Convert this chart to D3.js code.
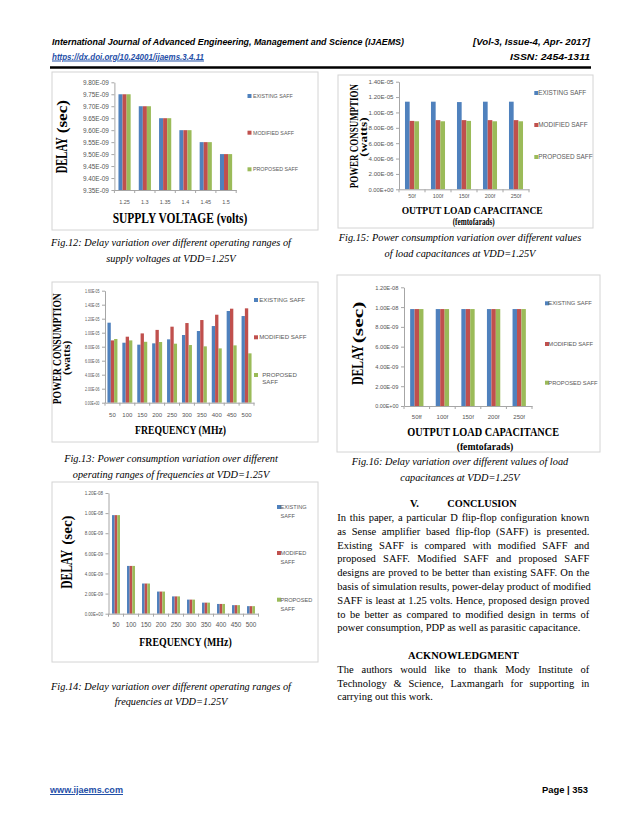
<!DOCTYPE html>
<html>
<head>
<meta charset="utf-8">
<script src="https://cdn.jsdelivr.net/npm/d3@7"></script>
<style>
  body { margin: 0; background: #fff; }
  svg { display: block; }
</style>
</head>
<body>
<svg id="page" width="638" height="826"></svg>
<script>
'use strict';

// ---- data ----
const seriesColors = ['#4f81bd', '#c0504d', '#9bbb59'];
const legendPlain = [['EXISTING SAFF'], ['MODIFIED SAFF'], ['PROPOSED SAFF']];
const legendFig13 = [['EXISTING SAFF'], ['MODIFIED SAFF'], ['PROPOSED', 'SAFF']];
const legendFig14 = [['EXISTING', 'SAFF'], ['MODIFED', 'SAFF'], ['PROPOSED', 'SAFF']];

// Fig.12 delay vs supply voltage
const voltages = ['1.25', '1.3', '1.35', '1.4', '1.45', '1.5'];
const delayVoltExisting = [9.75e-9, 9.70e-9, 9.65e-9, 9.60e-9, 9.55e-9, 9.50e-9];
const delayVoltModified = [9.75e-9, 9.70e-9, 9.65e-9, 9.60e-9, 9.55e-9, 9.50e-9];
const delayVoltProposed = [9.75e-9, 9.70e-9, 9.65e-9, 9.60e-9, 9.55e-9, 9.50e-9];
const delayVoltTicks = [9.35e-9, 9.40e-9, 9.45e-9, 9.50e-9, 9.55e-9, 9.60e-9, 9.65e-9, 9.70e-9, 9.75e-9, 9.80e-9];

// Fig.13 power vs frequency
const frequencies = ['50', '100', '150', '200', '250', '300', '350', '400', '450', '500'];
const powerFreqExisting = [1.143e-5, 8.57e-6, 8.29e-6, 8.48e-6, 9.05e-6, 9.67e-6, 1.024e-5, 1.095e-5, 1.31e-5, 1.238e-5];
const powerFreqModified = [8.9e-6, 9.43e-6, 9.9e-6, 1.04e-5, 1.086e-5, 1.138e-5, 1.181e-5, 1.257e-5, 1.343e-5, 1.348e-5];
const powerFreqProposed = [9.1e-6, 8.9e-6, 8.7e-6, 8.67e-6, 8.43e-6, 8.24e-6, 8.05e-6, 7.76e-6, 8.19e-6, 7.05e-6];
const powerFreqTicks = [0, 2e-6, 4e-6, 6e-6, 8e-6, 1e-5, 1.2e-5, 1.4e-5, 1.6e-5];

// Fig.14 delay vs frequency
const delayFreqExisting = [9.8e-9, 4.75e-9, 3.0e-9, 2.2e-9, 1.72e-9, 1.4e-9, 1.1e-9, 0.97e-9, 0.85e-9, 0.75e-9];
const delayFreqModified = [9.8e-9, 4.75e-9, 3.0e-9, 2.2e-9, 1.72e-9, 1.4e-9, 1.1e-9, 0.97e-9, 0.85e-9, 0.75e-9];
const delayFreqProposed = [9.8e-9, 4.75e-9, 3.0e-9, 2.2e-9, 1.72e-9, 1.4e-9, 1.1e-9, 0.97e-9, 0.85e-9, 0.75e-9];
const delayFreqTicks = [0, 2e-9, 4e-9, 6e-9, 8e-9, 1e-8, 1.2e-8];

// Fig.15 power vs load capacitance
const loadsFig15 = ['50f', '100f', '150f', '200f', '250f'];
const powerLoadExisting = [1.14e-5, 1.14e-5, 1.135e-5, 1.14e-5, 1.14e-5];
const powerLoadModified = [8.9e-6, 9.0e-6, 9.0e-6, 9.0e-6, 9.0e-6];
const powerLoadProposed = [8.85e-6, 8.85e-6, 8.9e-6, 8.85e-6, 8.85e-6];
const powerLoadTicks = [0, 2e-6, 4e-6, 6e-6, 8e-6, 1e-5, 1.2e-5, 1.4e-5];

// Fig.16 delay vs load capacitance
const loadsFig16 = ['50ff', '100f', '150f', '200f', '250f'];
const delayLoadExisting = [9.8e-9, 9.8e-9, 9.8e-9, 9.8e-9, 9.8e-9];
const delayLoadModified = [9.8e-9, 9.8e-9, 9.8e-9, 9.8e-9, 9.8e-9];
const delayLoadProposed = [9.8e-9, 9.8e-9, 9.8e-9, 9.8e-9, 9.8e-9];
const delayLoadTicks = [0, 2e-9, 4e-9, 6e-9, 8e-9, 1e-8, 1.2e-8];

// page text
const captionFig12 = ['Fig.12: Delay variation over different operating ranges of', 'supply voltages at VDD=1.25V'];
const captionFig13 = ['Fig.13: Power consumption variation over different', 'operating ranges of frequencies at VDD=1.25V'];
const captionFig14 = ['Fig.14: Delay variation over different operating ranges of', 'frequencies at VDD=1.25V'];
const captionFig15 = ['Fig.15: Power consumption variation over different values', 'of load capacitances at VDD=1.25V'];
const captionFig16 = ['Fig.16: Delay variation over different values of load', 'capacitances at VDD=1.25V'];
const conclusionLines = [
  'In this paper, a particular D flip-flop configuration known',
  'as Sense amplifier based flip-flop (SAFF) is presented.',
  'Existing SAFF is compared with modified SAFF and',
  'proposed SAFF. Modified SAFF and proposed SAFF',
  'designs are proved to be better than existing SAFF. On the',
  'basis of simulation results, power-delay product of modified',
  'SAFF is least at 1.25 volts. Hence, proposed design proved',
  'to be better as compared to modified design in terms of',
  'power consumption, PDP as well as parasitic capacitance.'
];
const ackLines = [
  'The authors would like to thank Mody Institute of',
  'Technology & Science, Laxmangarh for supporting in',
  'carrying out this work.'
];

const serif = "'Liberation Serif', 'Times New Roman', serif";
const sans = "'Liberation Sans', Arial, sans-serif";
const axisColor = '#a6a6a6';
const tickColor = '#555';

const svg = d3.select('#page');
svg.append('rect').attr('width', 638).attr('height', 826).attr('fill', '#fff');

// 9.80E-09 style labels
const expFormat = (d) => {
  const parts = d.toExponential(2).split('e');
  const e = +parts[1];
  const n = Math.abs(e);
  return parts[0] + 'E' + (e < 0 ? '-' : '+') + (n < 10 ? '0' : '') + n;
};

function drawChart(cfg) {
  const g = svg.append('g');
  const [px0, py0, px1, py1] = cfg.panel;
  g.append('rect')
    .attr('x', px0).attr('y', py0)
    .attr('width', px1 - px0).attr('height', py1 - py0)
    .attr('fill', '#fff').attr('stroke', '#d4d4d4');

  const x = d3.scaleBand().domain(cfg.categories).range([cfg.plot.left, cfg.plot.right]);
  const n = cfg.series.length;
  const pad = n * (1 - cfg.cluster) / (2 * cfg.cluster);
  const xs = d3.scaleBand().domain(d3.range(n)).range([0, x.bandwidth()])
    .paddingInner(0).paddingOuter(pad);
  const y = d3.scaleLinear().domain(d3.extent(cfg.ticks)).range([cfg.plot.bottom, cfg.plot.top]);

  //bars, one group per series
  cfg.series.forEach((vals, s) => {
    g.append('g').selectAll('rect')
      .data(vals)
      .enter()
      .append('rect')
      .attr('x', (d, i) => x(cfg.categories[i]) + xs(s))
      .attr('y', (d) => y(d))
      .attr('width', xs.bandwidth())
      .attr('height', (d) => y(y.domain()[0]) - y(d))
      .attr('fill', seriesColors[s]);
  });

  //y axis
  const yAxis = g.append('g')
    .attr('transform', 'translate(' + cfg.plot.left + ',0)')
    .call(d3.axisLeft(y).tickValues(cfg.ticks).tickFormat(expFormat)
      .tickSize(3).tickSizeOuter(0).tickPadding(2.5));
  yAxis.select('.domain').attr('stroke', axisColor);
  yAxis.selectAll('.tick line').attr('stroke', axisColor);
  yAxis.selectAll('.tick text')
    .attr('fill', tickColor)
    .attr('font-family', sans)
    .attr('font-size', cfg.yTickFont)
    .attr('textLength', cfg.yTickLen)
    .attr('lengthAdjust', 'spacingAndGlyphs');

  //x axis
  const xAxis = g.append('g')
    .attr('transform', 'translate(0,' + cfg.plot.bottom + ')')
    .call(d3.axisBottom(x).tickSize(0).tickSizeOuter(0)
      .tickPadding(cfg.xLabelBase - cfg.plot.bottom - 0.71 * cfg.xTickFont));
  xAxis.select('.domain').attr('stroke', axisColor);
  xAxis.selectAll('.tick text')
    .attr('fill', tickColor)
    .attr('font-family', sans)
    .attr('font-size', cfg.xTickFont);
  xAxis.selectAll('.bound')
    .data(cfg.categories.map((c) => x(c)).concat([x.range()[1]]))
    .enter()
    .append('line')
    .attr('x1', (d) => d).attr('x2', (d) => d)
    .attr('y1', 0).attr('y2', 3)
    .attr('stroke', axisColor);

  //axis titles, stretched like the pasted picture
  cfg.xTitle.forEach((t) => {
    g.append('text')
      .attr('x', t.cx).attr('y', t.base)
      .attr('text-anchor', 'middle')
      .attr('font-family', serif).attr('font-weight', 'bold')
      .attr('font-size', t.size)
      .attr('textLength', t.len).attr('lengthAdjust', 'spacingAndGlyphs')
      .text(t.text);
  });
  cfg.yTitle.forEach((t) => {
    g.append('text')
      .attr('transform', 'translate(' + t.bx + ',' + t.by + ') rotate(-90)')
      .attr('font-family', serif).attr('font-weight', 'bold')
      .attr('font-size', t.size)
      .attr('textLength', t.len).attr('lengthAdjust', 'spacingAndGlyphs')
      .text(t.text);
  });

  //legend
  const lg = cfg.legend;
  lg.labels.forEach((lines, s) => {
    const cy = lg.ys[s];
    g.append('rect')
      .attr('x', lg.sx).attr('y', cy - 2)
      .attr('width', 4).attr('height', 4)
      .attr('fill', seriesColors[s]);
    const t = g.append('text')
      .attr('font-family', sans)
      .attr('font-size', lg.font)
      .attr('fill', '#595959');
    lines.forEach((ln, k) => {
      t.append('tspan')
        .attr('x', lg.tx + (lg.indent ? lg.indent[s] : 0))
        .attr('y', cy + lg.font * 0.36 + k * lg.lineGap)
        .text(ln);
    });
  });
}

drawChart({
  panel: [52, 72, 318, 230],
  plot: { left: 114.4, right: 236.2, top: 82.3, bottom: 190 },
  categories: voltages,
  series: [delayVoltExisting, delayVoltModified, delayVoltProposed],
  ticks: delayVoltTicks,
  cluster: 0.6,
  yTickFont: 6.5, yTickLen: 26,
  xTickFont: 5.5, xLabelBase: 203.7,
  xTitle: [{ text: 'SUPPLY VOLTAGE (volts)', cx: 180, base: 222.7, size: 14, len: 134.7 }],
  yTitle: [
    { text: 'DELAY', bx: 67.3, by: 173.3, size: 17, len: 36 },
    { text: '(sec)', bx: 67.3, by: 133.3, size: 15, len: 33.3 }
  ],
  legend: { labels: legendPlain, sx: 247.5, tx: 253, font: 5.3, lineGap: 7, ys: [96, 132.7, 169.3] }
});

drawChart({
  panel: [52, 282, 318, 442],
  plot: { left: 105, right: 254, top: 290.7, bottom: 402.7 },
  categories: frequencies,
  series: [powerFreqExisting, powerFreqModified, powerFreqProposed],
  ticks: powerFreqTicks,
  cluster: 0.67,
  yTickFont: 5, yTickLen: 14.5,
  xTickFont: 6, xLabelBase: 417.2,
  xTitle: [{ text: 'FREQUENCY (MHz)', cx: 180.5, base: 434.3, size: 13, len: 91 }],
  yTitle: [
    { text: 'POWER CONSUMPTION', bx: 61, by: 404.3, size: 12, len: 111 },
    { text: '(watts)', bx: 70, by: 375, size: 9.5, len: 34.3 }
  ],
  legend: { labels: legendFig13, sx: 254, tx: 259.3, font: 6.1, lineGap: 7.3, ys: [300, 337.3, 375], indent: [0, 0, 3] }
});

drawChart({
  panel: [52, 482, 318, 662],
  plot: { left: 108.5, right: 258.5, top: 493, bottom: 613.7 },
  categories: frequencies,
  series: [delayFreqExisting, delayFreqModified, delayFreqProposed],
  ticks: delayFreqTicks,
  cluster: 0.53,
  yTickFont: 5.5, yTickLen: 18.3,
  xTickFont: 6.4, xLabelBase: 627,
  xTitle: [{ text: 'FREQUENCY (MHz)', cx: 185.5, base: 646.3, size: 13, len: 92.4 }],
  yTitle: [
    { text: 'DELAY', bx: 71.7, by: 588.7, size: 17.5, len: 39 },
    { text: '(sec)', bx: 71.7, by: 544.7, size: 15, len: 29.3 }
  ],
  legend: { labels: legendFig14, sx: 277, tx: 280.5, font: 5.6, lineGap: 8.8, ys: [507, 553, 599.7] }
});

drawChart({
  panel: [338, 75, 593, 228],
  plot: { left: 399, right: 529, top: 81.7, bottom: 189.3 },
  categories: loadsFig15,
  series: [powerLoadExisting, powerLoadModified, powerLoadProposed],
  ticks: powerLoadTicks,
  cluster: 0.54,
  yTickFont: 6, yTickLen: 25,
  xTickFont: 5.5, xLabelBase: 198,
  xTitle: [
    { text: 'OUTPUT LOAD CAPACITANCE', cx: 472.2, base: 213.5, size: 11, len: 141 },
    { text: '(femtofarads)', cx: 473.7, base: 224.5, size: 9.5, len: 42 }
  ],
  yTitle: [
    { text: 'POWER CONSUMPTION', bx: 357.8, by: 188.3, size: 12, len: 104.3 },
    { text: '(watts)', bx: 366.5, by: 156.7, size: 9.5, len: 39.3 }
  ],
  legend: { labels: legendPlain, sx: 534.3, tx: 538.3, font: 6.4, lineGap: 7, ys: [93, 125, 157] }
});

drawChart({
  panel: [337, 275, 600, 452],
  plot: { left: 404, right: 532, top: 287.3, bottom: 406 },
  categories: loadsFig16,
  series: [delayLoadExisting, delayLoadModified, delayLoadProposed],
  ticks: delayLoadTicks,
  cluster: 0.52,
  yTickFont: 6, yTickLen: 23.3,
  xTickFont: 6, xLabelBase: 419,
  xTitle: [
    { text: 'OUTPUT LOAD CAPACITANCE', cx: 483.2, base: 436.2, size: 11.5, len: 151.7 },
    { text: '(femtofarads)', cx: 485, base: 449.5, size: 10.5, len: 56.7 }
  ],
  yTitle: [
    { text: 'DELAY', bx: 363.3, by: 385, size: 17.5, len: 40 },
    { text: '(sec)', bx: 363.3, by: 343.3, size: 15, len: 41.7 }
  ],
  legend: { labels: legendPlain, sx: 545, tx: 548.3, font: 5.8, lineGap: 7, ys: [303.3, 344, 382.7] }
});

// ---- page text ----
function put(str, x, y, o) {
  const t = svg.append('text')
    .attr('x', x).attr('y', y)
    .attr('font-family', o.family || serif)
    .attr('font-size', o.size || 10.5)
    .attr('fill', o.fill || '#000')
    .attr('text-anchor', o.anchor || 'start')
    .text(str);
  if (o.weight) t.attr('font-weight', o.weight);
  if (o.italic) t.attr('font-style', 'italic');
  if (o.underline) t.attr('text-decoration', 'underline');
  if (o.len) t.attr('textLength', o.len).attr('lengthAdjust', o.adjust || 'spacingAndGlyphs');
  return t;
}

//justify a line by widening its word gaps
function justify(t, width) {
  const natural = t.node().getComputedTextLength();
  const gaps = (t.text().match(/ /g) || []).length;
  if (gaps && natural < width) t.style('word-spacing', ((width - natural) / gaps) + 'px');
}

//running header
const head = { family: sans, size: 9.8, weight: 'bold', italic: true };
put('International Journal of Advanced Engineering, Management and Science (IJAEMS)', 52, 44.5, Object.assign({ len: 352 }, head));
put('[Vol-3, Issue-4, Apr- 2017]', 590, 44.5, Object.assign({ len: 117, anchor: 'end' }, head));
put('https://dx.doi.org/10.24001/ijaems.3.4.11', 52, 59.5, Object.assign({ len: 152, fill: '#1f4fa8', underline: true }, head));
put('ISSN: 2454-1311', 590, 59.5, Object.assign({ len: 80, anchor: 'end' }, head));
svg.append('line')
  .attr('x1', 50).attr('x2', 591).attr('y1', 67.5).attr('y2', 67.5)
  .attr('stroke', '#000').attr('stroke-width', 2.6);

//captions
const capStyle = { size: 10.3, italic: true, anchor: 'middle' };
[[captionFig12, 171, 246], [captionFig13, 171, 462], [captionFig14, 171, 689.5],
 [captionFig15, 460, 241], [captionFig16, 460, 465]].forEach(([lines, cx, y0]) => {
  lines.forEach((ln, i) => put(ln, cx, y0 + i * 15.7, capStyle));
});

//conclusion
put('V.', 410, 507, { weight: 'bold' });
put('CONCLUSION', 447.3, 507, { weight: 'bold', len: 69.4 });
conclusionLines.forEach((ln, i) => {
  const t = put(ln, 337.3, 521 + i * 13.8, {});
  if (i < conclusionLines.length - 1) justify(t, 252);
});
put('ACKNOWLEDGMENT', 463.3, 659, { weight: 'bold', anchor: 'middle' });
ackLines.forEach((ln, i) => {
  const t = put(ln, 337.3, 673 + i * 13.7, {});
  if (i < ackLines.length - 1) justify(t, 252);
});

//footer
put('www.ijaems.com', 50, 793, { family: sans, size: 9.8, weight: 'bold', fill: '#1f4fa8', underline: true, len: 73 });
put('Page | 353', 588, 793, { family: sans, size: 9.8, weight: 'bold', anchor: 'end', len: 46 });
</script>
</body>
</html>
